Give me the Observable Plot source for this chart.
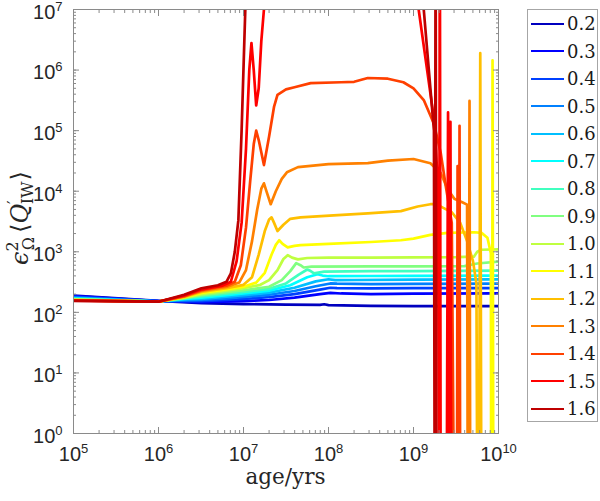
<!DOCTYPE html>
<html><head><meta charset="utf-8">
<script src="https://cdn.jsdelivr.net/npm/d3@7"></script>
<script src="https://cdn.jsdelivr.net/npm/@observablehq/plot@0.6"></script>
<style>
body{margin:0;background:#fff;}
#wrap{position:relative;width:600px;height:501px;}
#legend{position:absolute;left:527px;top:9px;width:71px;height:413px;border:1px solid #a6a6a6;background:#fff;font-family:"DejaVu Serif";font-size:18px;color:#1a1a1a;box-sizing:border-box;}
.row{height:27.5px;display:flex;align-items:center;}
.sw{width:33px;height:2px;margin-left:3px;margin-right:3px;}
</style></head><body><div id="wrap"><div id="legend"></div></div>
<script>
const masses = ["0.2","0.3","0.4","0.5","0.6","0.7","0.8","0.9","1.0","1.1","1.2","1.3","1.4","1.5","1.6"];
const colors = ["#0000bf","#0000ff","#0040ff","#0080ff","#00bfff","#00ffff","#40ffbf","#80ff80","#bfff40","#ffff00","#ffbf00","#ff8000","#ff4000","#ff0000","#bf0000"];
const xMajor = [1e5,1e6,1e7,1e8,1e9,1e10];
const yMajor = [1,10,100,1e3,1e4,1e5,1e6,1e7];

// [age (yr), value]
const m02 = [[1e5,190],[1e6,155],[3.2e6,142],[1e7,137],[3.16e7,134],[7.94e7,133],[8.91e7,136],[1e8,132],[3.16e8,128],[1e9,127],[1e10,127]];
const m03 = [[1e5,185],[1e6,154],[3.2e6,148],[1e7,153],[2e7,160],[3.98e7,175],[7.94e7,200],[1.05e8,210],[1.41e8,205],[3.16e8,200],[1e9,204],[1e10,205]];
const m04 = [[1e5,180],[1e6,153],[3.2e6,153],[6.3e6,160],[1e7,166],[2e7,178],[3.98e7,200],[7.94e7,238],[1.05e8,255],[1.26e8,252],[3.16e8,248],[1e9,252],[1e10,252]];
const m05 = [[1e5,176],[1e6,152],[2e6,158],[3.2e6,160],[6.3e6,170],[1e7,180],[2e7,195],[3.98e7,225],[7.08e7,270],[1.05e8,300],[1.26e8,297],[3.16e8,292],[1e9,295],[1e10,297]];
const m06 = [[1e5,172],[1e6,151],[2e6,163],[3.2e6,167],[6.3e6,181],[1e7,193],[2e7,212],[3.98e7,255],[7.08e7,325],[1e8,352],[1.2e8,340],[2e8,342],[1e9,346],[1e10,350]];
const m07 = [[1e5,169],[1e6,151],[2e6,167],[3.2e6,175],[6.3e6,192],[1e7,205],[2e7,228],[3.55e7,280],[5.62e7,380],[7.41e7,425],[8.51e7,405],[1e8,395],[3.16e8,398],[1e9,400],[1e10,405]];
const m08 = [[1e5,166],[1e6,151],[2e6,170],[3.2e6,183],[6.3e6,203],[1e7,218],[2e7,245],[3.16e7,300],[4.47e7,420],[5.62e7,510],[6.17e7,480],[6.76e7,440],[8.91e7,470],[3.16e8,478],[1e9,480],[1e10,490]];
const m09 = [[1e5,164],[1e6,151],[2e6,172],[3.2e6,192],[6.3e6,215],[1e7,232],[2e7,265],[2.82e7,340],[3.55e7,480],[4.17e7,650],[4.68e7,600],[5.13e7,550],[6.31e7,570],[3.16e8,575],[1e9,575],[3.98e9,580],[5.62e9,640],[1e10,690]];
const m10 = [[1e5,162],[1e6,151],[2e6,175],[3.2e6,200],[6.3e6,228],[1e7,250],[1.58e7,285],[2e7,340],[2.51e7,500],[2.95e7,760],[3.31e7,880],[3.72e7,800],[4.37e7,750],[5.62e7,790],[1e8,800],[3.16e8,800],[1e9,810],[3.16e9,815],[5.13e9,830],[5.62e9,1000],[6.31e9,1080],[1e10,1100]];
const m11 = [[1e5,160],[1e6,150],[2e6,178],[3.2e6,210],[6.3e6,240],[1e7,265],[1.41e7,310],[1.78e7,450],[2.14e7,900],[2.4e7,1300],[2.63e7,1550],[2.88e7,1350],[3.31e7,1180],[3.98e7,1250],[4.68e7,1290],[1e8,1350],[3.16e8,1450],[7.1e8,1550],[1e9,1650],[1.58e9,1900],[2.51e9,2050],[5.13e9,2100],[6.31e9,2050],[7.41e9,1700],[8.13e9,950],[8.22e9,0.01],[8.41e9,0.01],[8.51e9,1.45e6],[8.71e9,0.01]];
const m12 = [[1e5,159],[1e6,150],[2e6,180],[3.2e6,218],[6.3e6,250],[1e7,285],[1.26e7,380],[1.51e7,900],[1.78e7,2200],[2e7,3400],[2.14e7,3700],[2.29e7,3000],[2.51e7,2200],[2.95e7,2800],[3.55e7,3500],[4.68e7,3700],[1.15e8,4000],[2.9e8,4300],[7.1e8,4700],[1.12e9,5600],[1.58e9,6100],[1.86e9,6100],[2.24e9,5300],[2.82e9,4500],[3.55e9,3000],[4.27e9,1500],[5.01e9,700],[5.5e9,300],[5.66e9,0.01],[5.9e9,0.01],[6.1e9,1.9e6],[6.3e9,0.01]];
const m13 = [[1e5,158],[1e6,150],[2e6,183],[3.2e6,225],[6.3e6,262],[8.9e6,310],[1.07e7,500],[1.26e7,1500],[1.45e7,5000],[1.62e7,1.1e4],[1.74e7,1.35e4],[1.86e7,1e4],[2.09e7,6100],[2.4e7,1e4],[2.82e7,1.6e4],[3.24e7,2.05e4],[4.37e7,2.5e4],[1e8,2.8e4],[2.9e8,2.9e4],[5e8,3.2e4],[1e9,3.4e4],[1.58e9,2.9e4],[2.09e9,2e4],[2.51e9,1.1e4],[3.02e9,7500],[3.8e9,6500],[4.27e9,6000],[4.36e9,0.01],[4.46e9,0.01],[4.56e9,3.1e5],[4.66e9,0.01]];
const m14 = [[1e5,157],[1e6,150],[2e6,185],[3.2e6,232],[6.3e6,275],[7.9e6,320],[9.3e6,600],[1.07e7,2500],[1.2e7,1.5e4],[1.32e7,6e4],[1.41e7,1e5],[1.51e7,7e4],[1.74e7,2.7e4],[2e7,8e4],[2.29e7,2.5e5],[2.51e7,3.9e5],[3.16e7,4.8e5],[3.98e7,5.2e5],[6.17e7,6.1e5],[1.41e8,6.3e5],[2e8,6.4e5],[2.9e8,7.4e5],[5e8,7.2e5],[7.6e8,6.3e5],[1e9,5e5],[1.32e9,3.2e5],[1.74e9,1.3e5],[2.09e9,4.3e4],[2.4e9,1.2e4],[2.82e9,3000],[3.02e9,0.01],[3.24e9,0.01],[3.3e9,2.6e4],[3.36e9,0.01],[3.42e9,0.01],[3.48e9,1.2e5],[3.55e9,0.01]];
const m15 = [[1e5,156],[1e6,150],[2e6,190],[3.2e6,240],[5.6e6,275],[7.1e6,320],[8.3e6,700],[9.5e6,3000],[1.07e7,5e4],[1.17e7,1e6],[1.24e7,2.8e6],[1.32e7,1e6],[1.41e7,2.6e5],[1.51e7,5e5],[1.62e7,3e6],[1.74e7,1e7],[1.86e7,1e9],[1e9,1e9],[1.15e9,1e7],[1.82e9,1e5],[1.95e9,5e3],[2e9,0.01],[2.04e9,1e9],[2.09e9,0.01],[2.45e9,0.01],[2.55e9,2e5],[2.6e9,0.01],[2.66e9,0.01],[2.72e9,1.4e5],[2.78e9,0.01]];
const m16 = [[1e5,155],[1e6,150],[2e6,195],[3.2e6,250],[5e6,280],[6.3e6,320],[7.1e6,440],[7.9e6,1000],[8.7e6,3300],[9.5e6,1e5],[1.05e7,1e7],[1.12e7,1e9],[1e9,1e9],[1.32e9,1e7],[1.74e9,1e5],[1.78e9,0.01],[1.82e9,1e9],[1.86e9,0.01]];

const series = [m02,m03,m04,m05,m06,m07,m08,m09,m10,m11,m12,m13,m14,m15,m16];

const axisGray = "#8a8a8a";
const xMinor = d3.scaleLog().domain([1e5,1e10]).ticks();
const yMinor = d3.scaleLog().domain([1,1e7]).ticks();
const fmt = d => "10^" + Math.round(Math.log10(d));

const plot = Plot.plot({
  width: 600, height: 501,
  marginLeft: 73, marginRight: 102, marginTop: 9, marginBottom: 68,
  style: {fontFamily: "Liberation Sans", fontSize: "20px", background: "white", color: "#262626"},
  x: {type: "log", domain: [1e5, 1e10]},
  y: {type: "log", domain: [1, 1e7]},
  marks: [
    ...series.map((s, i) => Plot.line(s, {x: d => d[0], y: d => d[1], stroke: colors[i], strokeWidth: 2.7, clip: true})),
    Plot.frame({stroke: axisGray}),
    Plot.axisX({anchor: "bottom", ticks: xMinor, tickSize: -3, tickFormat: () => "", stroke: axisGray}),
    Plot.axisX({anchor: "top", ticks: xMinor, tickSize: -3, tickFormat: () => "", stroke: axisGray}),
    Plot.axisY({anchor: "left", ticks: yMinor, tickSize: -3, tickFormat: () => "", stroke: axisGray}),
    Plot.axisY({anchor: "right", ticks: yMinor, tickSize: -3, tickFormat: () => "", stroke: axisGray}),
    Plot.axisX({anchor: "bottom", ticks: xMajor, tickSize: -6, tickFormat: () => "", stroke: axisGray}),
    Plot.axisX({anchor: "top", ticks: xMajor, tickSize: -6, tickFormat: () => "", stroke: axisGray}),
    Plot.axisY({anchor: "left", ticks: yMajor, tickSize: -6, tickFormat: () => "", stroke: axisGray}),
    Plot.axisY({anchor: "right", ticks: yMajor, tickSize: -6, tickFormat: () => "", stroke: axisGray}),
    Plot.axisX({anchor: "bottom", ticks: xMajor, tickSize: 0, tickPadding: 13, tickFormat: fmt, label: null, fill: "#262626"}),
    Plot.axisY({anchor: "left", ticks: yMajor, tickSize: 0, tickPadding: 11, dy: 3, tickFormat: fmt, label: null, fill: "#262626"})
  ]
});

const svg = d3.select(plot);
svg.selectAll("text").each(function() {
  const t = this.textContent;
  if (t.includes("^")) {
    const [b, e] = t.split("^");
    const el = d3.select(this);
    el.text(null);
    el.append("tspan").text(b);
    el.append("tspan").attr("font-size", "13px").attr("dy", "-8").text(e);
  }
});

svg.append("text").attr("x", 285.5).attr("y", 484).attr("text-anchor", "middle")
  .style("font-family", "DejaVu Serif").style("font-size", "21.5px").attr("fill", "#262626").text("age/yrs");

const yl = svg.append("text").attr("transform", "translate(28,218) rotate(-90)").attr("text-anchor", "middle")
  .style("font-family", "DejaVu Serif").style("font-size", "24px").attr("fill", "#262626");
yl.append("tspan").attr("font-style", "italic").text("ϵ");
yl.append("tspan").attr("font-size", "16px").attr("dy", "-10").text("2");
yl.append("tspan").attr("font-size", "16px").attr("dx", "-9").attr("dy", "16").text("Ω");
yl.append("tspan").attr("dy", "-6").attr("dx", "4").text("⟨");
yl.append("tspan").attr("font-style", "italic").text("Q");
yl.append("tspan").attr("font-size", "16px").attr("dy", "-9").text("′");
yl.append("tspan").attr("font-size", "16px").attr("dx", "-4").attr("dy", "14").text("IW");
yl.append("tspan").attr("dy", "-5").attr("dx", "1").text("⟩");

document.getElementById("wrap").prepend(plot);
plot.style.position = "absolute"; plot.style.left = "0"; plot.style.top = "0";

const leg = d3.select("#legend");
masses.forEach((m, i) => {
  const r = leg.append("div").attr("class", "row");
  r.append("div").attr("class", "sw").style("background", colors[i]);
  r.append("span").text(m);
});
</script></body></html>
